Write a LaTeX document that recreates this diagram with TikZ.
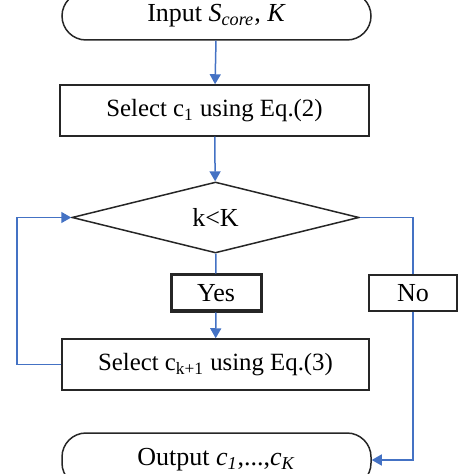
\documentclass[tikz,border=0pt]{standalone}
\usepackage{fontspec}
\setmainfont{Liberation Serif}
\usetikzlibrary{shapes.geometric,arrows.meta}
\begin{document}
\begin{tikzpicture}[x=0.5pt,y=-0.5pt,
  box/.style={draw=black!85,line width=0.75pt,rectangle,inner sep=0pt,font=\fontsize{13}{15}\selectfont},
  selbox/.style={box,font=\fontsize{12.4}{15}\selectfont},
  term/.style={box,rounded corners=12pt},
  dec/.style={draw=black!85,line width=0.75pt,diamond,inner sep=0pt,aspect=4,font=\fontsize{13}{15}\selectfont},
  conn/.style={color={rgb,255:red,68;green,114;blue,196},line width=0.75pt},
  arr/.style={conn,-{Triangle[length=5pt,width=5.5pt]}}]
\useasboundingbox (0,0) rectangle (474,474);
\node[term,minimum width=154.5pt,minimum height=24pt] (in) at (216.5,16) {Input \textit{S}\textsubscript{\textit{core}}, \textit{K}};
\node[selbox,minimum width=154.5pt,minimum height=25.5pt] (s1) at (214.5,110.5) {Select c\textsubscript{1} using Eq.(2)};
\node[dec,minimum width=143.5pt,minimum height=35.5pt] (d) at (215.5,217.5) {k<K};
\node[box,line width=1.5pt,minimum width=45pt,minimum height=18pt] (yes) at (216,293) {Yes};
\node[box,minimum width=44pt,minimum height=18pt] (no) at (413,293) {No};
\node[selbox,minimum width=153.5pt,minimum height=25.5pt] (s2) at (215.5,364.5) {Select c\textsubscript{k+1} using Eq.(3)};
\node[term,minimum width=154.5pt,minimum height=27pt] (out) at (216.5,460) {Output \textit{c}\textsubscript{\textit{1}},...,\textit{c}\textsubscript{\textit{K}}};
\coordinate (l1) at (17,364.5);
\coordinate (l2) at (17,217.5);
\coordinate (r1) at (413,217.5);
\coordinate (r2) at (413,460);
\draw[arr] (in) -- (s1);
\draw[arr] (s1) -- (d);
\draw[conn] (d) -- (yes);
\draw[arr] (yes) -- (s2);
\draw[arr] (s2.west) -- (l1) -- (l2) -- (d.west);
\draw[conn] (d.east) -- (r1) -- (no.north);
\draw[arr] (no.south) -- (r2) -- (out.east);
\end{tikzpicture}
\end{document}
